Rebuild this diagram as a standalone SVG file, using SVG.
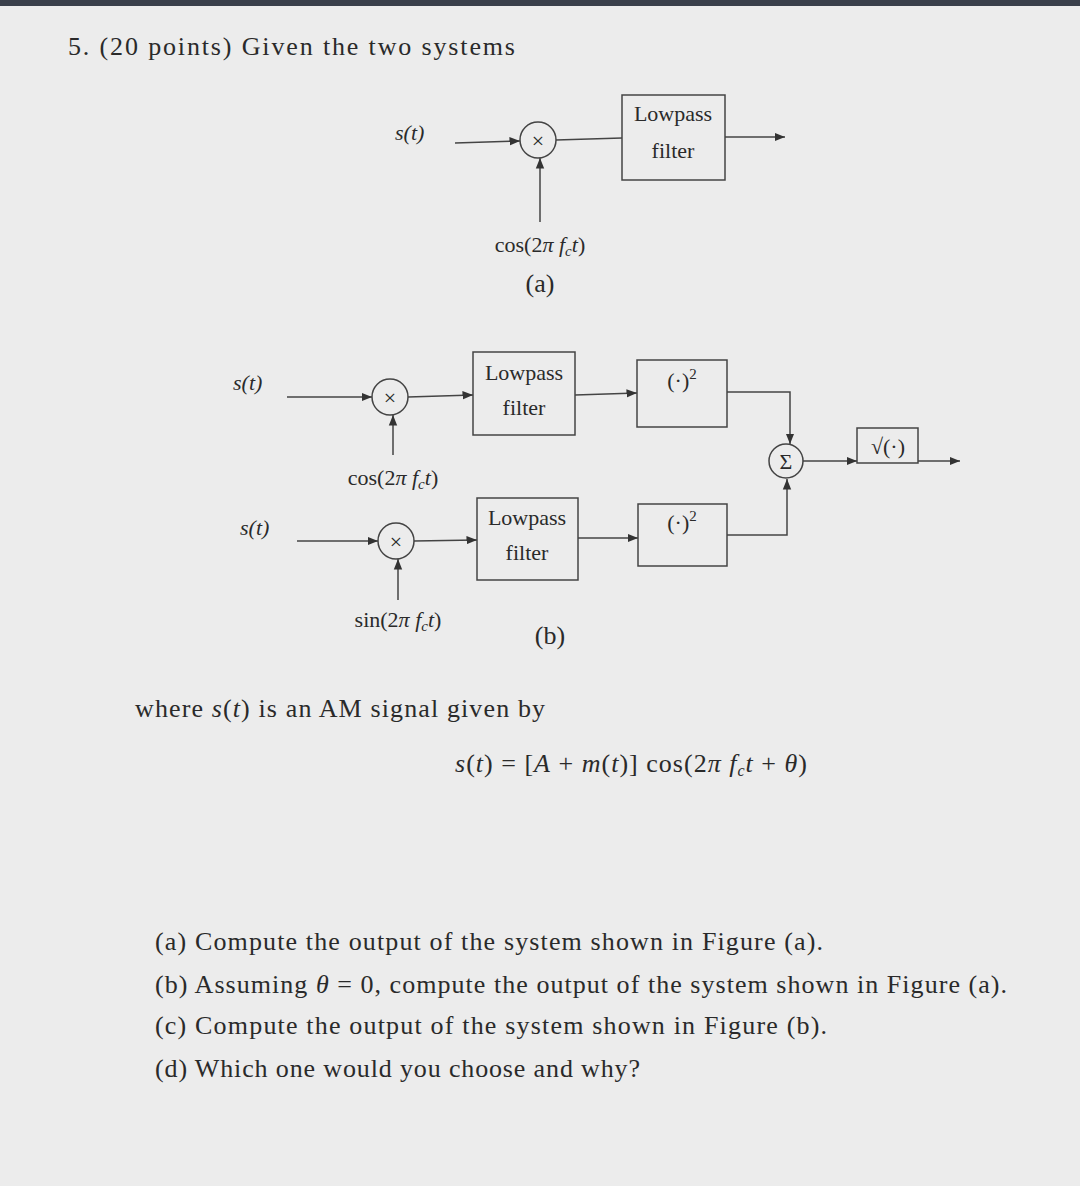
<svg xmlns="http://www.w3.org/2000/svg" width="1080" height="1186" viewBox="0 0 1080 1186">
<defs>
<marker id="ar" viewBox="0 0 10 10" refX="10" refY="5" markerWidth="7" markerHeight="7" orient="auto"><path d="M0,1 L10,5 L0,9 z" fill="#333"/></marker>
</defs>
<style>
text{font-family:"Liberation Serif","DejaVu Serif",serif;fill:#2a2a2a}
.t{font-size:26px}
.m{font-size:22px}
.b{fill:none;stroke:#444;stroke-width:1.5}
.l{fill:none;stroke:#444;stroke-width:1.5}
</style>
<rect width="1080" height="1186" fill="#ececec"/>
<rect width="1080" height="6" fill="#3a3f4a"/>
<text x="68" y="55" class="t" textLength="447" lengthAdjust="spacing">5. (20 points) Given the two systems</text>
<g id="connectors">
<line class="l" x1="455" y1="143" x2="520" y2="141" marker-end="url(#ar)"/>
<line class="l" x1="556" y1="140" x2="622" y2="138"/>
<line class="l" x1="725" y1="137" x2="785" y2="137" marker-end="url(#ar)"/>
<line class="l" x1="540" y1="222" x2="540" y2="158" marker-end="url(#ar)"/>
<line class="l" x1="287" y1="397" x2="372" y2="397" marker-end="url(#ar)"/>
<line class="l" x1="408" y1="397" x2="473" y2="395" marker-end="url(#ar)"/>
<line class="l" x1="575" y1="395" x2="637" y2="393" marker-end="url(#ar)"/>
<polyline class="l" points="727,392 790,392 790,444" marker-end="url(#ar)"/>
<line class="l" x1="803" y1="461" x2="857" y2="461" marker-end="url(#ar)"/>
<line class="l" x1="918" y1="461" x2="960" y2="461" marker-end="url(#ar)"/>
<line class="l" x1="393" y1="455" x2="393" y2="415" marker-end="url(#ar)"/>
<line class="l" x1="297" y1="541" x2="378" y2="541" marker-end="url(#ar)"/>
<line class="l" x1="414" y1="541" x2="477" y2="540" marker-end="url(#ar)"/>
<line class="l" x1="578" y1="538" x2="638" y2="538" marker-end="url(#ar)"/>
<polyline class="l" points="727,535 787,535 787,479" marker-end="url(#ar)"/>
<line class="l" x1="398" y1="600" x2="398" y2="559" marker-end="url(#ar)"/>
</g>
<g id="a_st"><text x="395" y="140" class="m" font-style="italic" font-size="24">s(t)</text></g>
<g id="a_mul"><circle class="b" cx="538" cy="140" r="18"/><text x="538" y="148" class="m" text-anchor="middle">×</text></g>
<g id="a_lpf"><rect class="b" x="622" y="95" width="103" height="85"/><text x="673" y="121" class="m" text-anchor="middle">Lowpass</text><text x="673" y="158" class="m" text-anchor="middle">filter</text></g>
<g id="a_cos"><text x="540" y="252" class="m" text-anchor="middle">cos(2<tspan font-style="italic">π f</tspan><tspan font-size="15" dy="4" font-style="italic">c</tspan><tspan dy="-4" font-style="italic">t</tspan>)</text></g>
<text x="540" y="292" class="t" text-anchor="middle">(a)</text>
<g id="b_st1"><text x="233" y="390" class="m" font-style="italic" font-size="24">s(t)</text></g>
<g id="b_mul1"><circle class="b" cx="390" cy="397" r="18"/><text x="390" y="405" class="m" text-anchor="middle">×</text></g>
<g id="b_lpf1"><rect class="b" x="473" y="352" width="102" height="83"/><text x="524" y="380" class="m" text-anchor="middle">Lowpass</text><text x="524" y="415" class="m" text-anchor="middle">filter</text></g>
<g id="b_sq1"><rect class="b" x="637" y="360" width="90" height="67"/><text x="682" y="388" class="m" text-anchor="middle">(·)<tspan font-size="15" dy="-9">2</tspan></text></g>
<g id="b_cos"><text x="393" y="485" class="m" text-anchor="middle">cos(2<tspan font-style="italic">π f</tspan><tspan font-size="15" dy="4" font-style="italic">c</tspan><tspan dy="-4" font-style="italic">t</tspan>)</text></g>
<g id="b_sum"><circle class="b" cx="786" cy="461" r="17"/><text x="786" y="469" class="m" text-anchor="middle">Σ</text></g>
<g id="b_sqrt"><rect class="b" x="857" y="428" width="61" height="35"/><text x="888" y="454" class="m" text-anchor="middle">√(·)</text></g>
<g id="b_st2"><text x="240" y="535" class="m" font-style="italic" font-size="24">s(t)</text></g>
<g id="b_mul2"><circle class="b" cx="396" cy="541" r="18"/><text x="396" y="549" class="m" text-anchor="middle">×</text></g>
<g id="b_lpf2"><rect class="b" x="477" y="498" width="101" height="82"/><text x="527" y="525" class="m" text-anchor="middle">Lowpass</text><text x="527" y="560" class="m" text-anchor="middle">filter</text></g>
<g id="b_sq2"><rect class="b" x="638" y="504" width="89" height="62"/><text x="682" y="530" class="m" text-anchor="middle">(·)<tspan font-size="15" dy="-9">2</tspan></text></g>
<g id="b_sin"><text x="398" y="627" class="m" text-anchor="middle">sin(2<tspan font-style="italic">π f</tspan><tspan font-size="15" dy="4" font-style="italic">c</tspan><tspan dy="-4" font-style="italic">t</tspan>)</text></g>
<text x="550" y="644" class="t" text-anchor="middle">(b)</text>
<text x="135" y="717" class="t" textLength="410" lengthAdjust="spacing">where <tspan font-style="italic">s</tspan>(<tspan font-style="italic">t</tspan>) is an AM signal given by</text>
<text x="455" y="772" class="t" textLength="352" lengthAdjust="spacing"><tspan font-style="italic">s</tspan>(<tspan font-style="italic">t</tspan>) = [<tspan font-style="italic">A</tspan> + <tspan font-style="italic">m</tspan>(<tspan font-style="italic">t</tspan>)] cos(2<tspan font-style="italic">π f</tspan><tspan font-size="16" dy="4" font-style="italic">c</tspan><tspan dy="-4" font-style="italic">t</tspan> + <tspan font-style="italic">θ</tspan>)</text>
<text x="155" y="950" class="t" textLength="668" lengthAdjust="spacing">(a)  Compute the output of the system shown in Figure (a).</text>
<text x="155" y="993" class="t" textLength="852" lengthAdjust="spacing">(b)  Assuming <tspan font-style="italic">θ</tspan> = 0, compute the output of the system shown in Figure (a).</text>
<text x="155" y="1034" class="t" textLength="672" lengthAdjust="spacing">(c)  Compute the output of the system shown in Figure (b).</text>
<text x="155" y="1077" class="t" textLength="485" lengthAdjust="spacing">(d)  Which one would you choose and why?</text>
</svg>
